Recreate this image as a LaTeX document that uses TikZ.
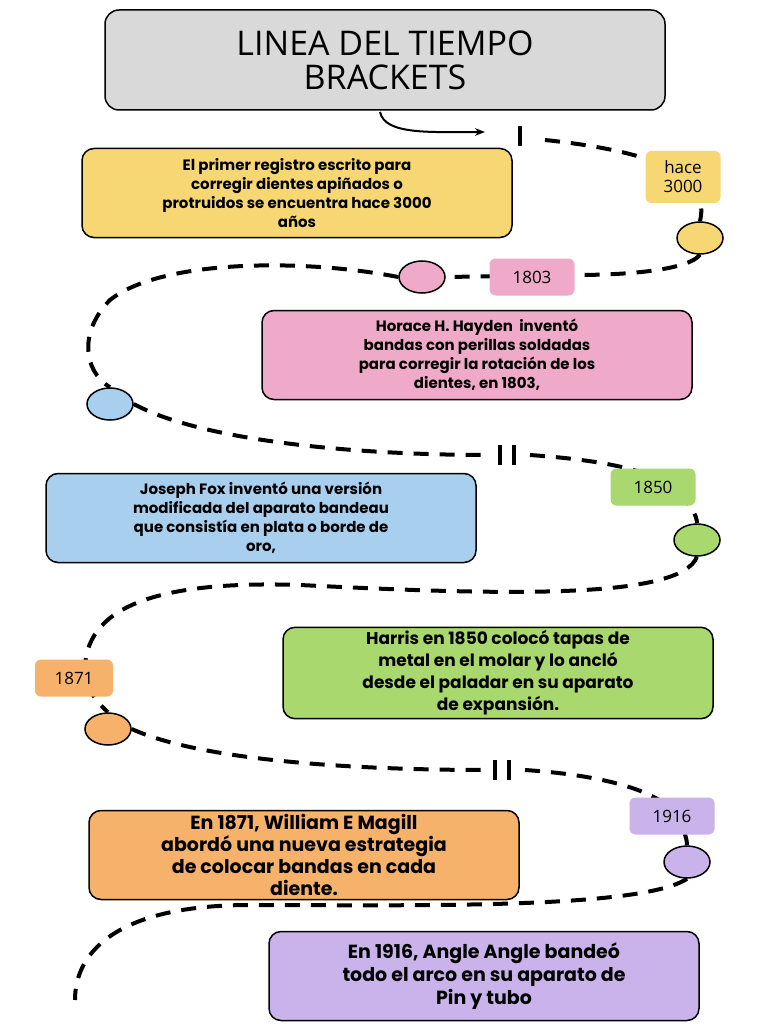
\documentclass[tikz,border=0pt]{standalone}
\usepackage{fontspec}
\setmainfont{Poppins}
\newfontfamily\thin{Open Sans}
\usetikzlibrary{shapes.geometric,arrows.meta}
\definecolor{cy}{HTML}{F7D774}
\definecolor{cp}{HTML}{EEAAC8}
\definecolor{cb}{HTML}{A8D0EE}
\definecolor{cg}{HTML}{A9D86E}
\definecolor{co}{HTML}{F6B26B}
\definecolor{cv}{HTML}{C9B3EA}
\definecolor{cgray}{HTML}{D9D9D9}
\tikzset{
 card/.style={draw=black,line width=1.5pt,rounded corners=12pt,minimum width=430pt,minimum height=89pt,align=center,font=\bfseries\fontsize{15}{19}\selectfont},
 lab/.style={rounded corners=6pt,minimum width=85pt,minimum height=37pt,align=center,font=\thin\fontsize{17}{19}\selectfont},
 dot/.style={ellipse,draw=black,line width=1.5pt,minimum width=46pt,minimum height=32pt},
 trail/.style={line width=4pt,dash pattern=on 15pt off 11pt},
 tick/.style={line width=4pt}
}
\begin{document}
\begin{tikzpicture}[x=1pt,y=-1pt]
\useasboundingbox[fill=white] (0,0) rectangle (768,1024);
% title
\node[draw=black,line width=1.5pt,fill=cgray,rounded corners=14pt,minimum width=560pt,minimum height=100pt,align=center,font=\thin\fontsize{34}{34}\selectfont] (title) at (385,60) {LINEA DEL TIEMPO\\BRACKETS};
\coordinate (as) at (380,112);
\coordinate (ae) at (485,132);
\draw[line width=2pt,-{Stealth[length=10pt]}] (as) .. controls (385,135) and (430,132) .. (ae);
% trail
\coordinate (t1a) at (520,126); \coordinate (t1b) at (520,146);
\draw[tick] (t1a)--(t1b);
\node[dot,fill=cy] (d1) at (700,238) {};
\node[dot,fill=cp] (d2) at (422,277) {};
\node[dot,fill=cb] (d3) at (110,404) {};
\node[dot,fill=cg] (d4) at (697,540) {};
\node[dot,fill=co] (d5) at (108,729) {};
\node[dot,fill=cv] (d6) at (687,862) {};
\draw[trail] (545,140) .. controls (640,150) and (712,170) .. (d1.north);
\draw[trail] (d1.south) .. controls (690,268) and (640,275) .. (575,275) -- (d2.east);
\draw[trail] (d2.west) .. controls (300,258) and (160,260) .. (110,300) .. controls (80,330) and (82,370) .. (d3.north);
\draw[trail] (d3.east) .. controls (200,440) and (350,455) .. (490,455);
\coordinate (i1a) at (500,445); \coordinate (i1b) at (500,465);
\coordinate (i2a) at (514,445); \coordinate (i2b) at (514,465);
\draw[tick] (i1a)--(i1b) (i2a)--(i2b);
\draw[trail] (530,455) .. controls (600,460) and (660,470) .. (680,495) .. controls (690,505) and (697,515) .. (d4.north);
\draw[trail] (d4.south) .. controls (680,600) and (500,595) .. (300,585) .. controls (150,580) and (85,610) .. (85,670) .. controls (85,690) and (100,705) .. (d5.north);
\draw[trail] (d5.east) .. controls (200,760) and (350,770) .. (488,770);
\coordinate (i3a) at (495,760); \coordinate (i3b) at (495,780);
\coordinate (i4a) at (509,760); \coordinate (i4b) at (509,780);
\draw[tick] (i3a)--(i3b) (i4a)--(i4b);
\draw[trail] (525,770) .. controls (600,775) and (660,790) .. (675,815) .. controls (685,830) and (687,840) .. (d6.north);
\draw[trail] (d6.south) .. controls (640,910) and (400,905) .. (250,905) .. controls (120,905) and (75,950) .. (75,1000);
% labels
\node[lab,fill=cy,minimum width=75pt,minimum height=52pt] (l1) at (683,177) {hace\\3000};
\node[lab,fill=cp] (l2) at (532,277) {1803};
\node[lab,fill=cg] (l3) at (653,487) {1850};
\node[lab,fill=co,minimum width=78pt] (l4) at (74,678) {1871};
\node[lab,fill=cv] (l5) at (672,816) {1916};
% cards
\node[card,fill=cy] (c1) at (297,193) {El primer registro escrito para\\corregir dientes apiñados o\\protruidos se encuentra hace 3000\\años};
\node[card,fill=cp] (c2) at (477,355) {Horace H. Hayden \ inventó\\bandas con perillas soldadas\\para corregir la rotación de los\\dientes, en 1803,};
\node[card,fill=cb] (c3) at (261,518) {Joseph Fox inventó una versión\\modificada del aparato bandeau\\que consistía en plata o borde de\\oro,};
\node[card,fill=cg,font=\bfseries\fontsize{17}{22}\selectfont] (c4) at (498,673) {Harris en 1850 colocó tapas de\\metal en el molar y lo ancló\\desde el paladar en su aparato\\de expansión.};
\node[card,fill=co,font=\bfseries\fontsize{19}{22}\selectfont] (c5) at (304,855) {En 1871, William E Magill\\abordó una nueva estrategia\\de colocar bandas en cada\\diente.};
\node[card,fill=cv,font=\bfseries\fontsize{19}{23}\selectfont] (c6) at (484,976) {En 1916, Angle Angle bandeó\\todo el arco en su aparato de\\Pin y tubo};
\end{tikzpicture}
\end{document}
